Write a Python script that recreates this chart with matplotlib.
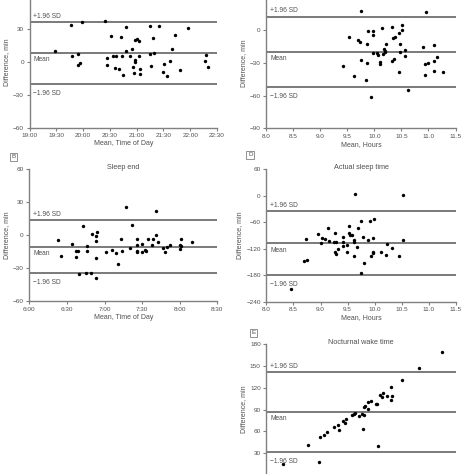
import matplotlib
matplotlib.use('Agg')
import matplotlib.pyplot as plt

plt.rcParams['font.family'] = ['Liberation Sans', 'DejaVu Sans']

# A: sleep start (mean clock time, difference in min)
a_time = ['19:29', '19:47', '19:48', '19:54', '19:54', '19:57', '19:59', '20:24', '20:27', '20:27',
          '20:31', '20:33', '20:37', '20:36', '20:40', '20:43', '20:44', '20:45', '20:48', '20:48',
          '20:53', '20:55', '20:56', '20:58', '20:58', '20:57', '20:58', '21:00', '21:03', '21:03',
          '21:04', '21:04', '21:15', '21:15', '21:16', '21:18', '21:19', '21:25', '21:29', '21:31',
          '21:34', '21:37', '21:40', '21:43', '21:49', '21:57', '22:16', '22:18', '22:20']
a_diff = [10.6, 34.2, 5.2, 7.0, -2.4, -0.6, 37.0, 37.9, 3.9, -3.0,
          23.9, 5.5, 5.8, -5.5, -6.7, 23.0, 5.5, -12.1, 32.1, 10.6,
          5.5, 12.1, -4.5, -0.3, 1.5, -9.7, 20.6, 21.5, 19.4, 5.2,
          -6.4, -10.6, 33.3, 7.6, -3.3, 21.8, 8.2, 32.7, -9.1, -1.8,
          -12.7, 0.9, 12.4, 24.5, -7.3, 31.5, 0.9, 6.4, -4.2]
a_limits = [36.8, 8.5, -19.8]

# C: time in bed (hours)
c_hours = [9.76, 10.96, 9.53, 9.69, 9.73, 9.41, 9.63, 9.75, 9.85, 9.86,
           9.89, 9.87, 9.93, 9.97, 9.98, 9.98, 10.05, 10.07, 10.10, 10.11,
           10.14, 10.15, 10.18, 10.19, 10.20, 10.22, 10.32, 10.32, 10.35, 10.37,
           10.38, 10.45, 10.48, 10.48, 10.51, 10.51, 10.45, 10.57, 10.57, 10.62,
           10.90, 10.93, 10.94, 10.99, 11.11, 11.10, 11.16, 11.11, 11.27]
c_diff = [17.8, 16.2, -6.1, -9.2, -11.3, -32.8, -42.5, -27.5, -45.3, -13.2,
          -0.9, -30.0, -61.2, -0.9, -4.6, -21.1, -21.1, -23.3, -29.1, -31.2,
          1.5, -21.7, -17.4, -19.6, -20.5, -12.5, 2.4, -27.9, -7.0, -26.9,
          -6.1, -3.1, -12.5, -20.5, 4.3, -0.3, -38.0, -18.4, -23.6, -54.8,
          -15.6, -41.0, -30.9, -30.0, -14.1, -27.9, -25.1, -37.3, -38.0]
c_limits = [12.4, -19.7, -51.8]

# B: sleep end
b_time = ['6:23', '6:25', '6:34', '6:37', '6:37', '6:39', '6:40', '6:43', '6:45', '6:46',
          '6:46', '6:49', '6:50', '6:53', '6:53', '6:53', '6:53', '6:54', '7:01', '7:06',
          '7:09', '7:11', '7:13', '7:14', '7:17', '7:20', '7:22', '7:26', '7:26', '7:26',
          '7:26', '7:30', '7:30', '7:32', '7:33', '7:35', '7:38', '7:39', '7:41', '7:41',
          '7:43', '7:47', '7:48', '7:50', '7:52', '8:00', '8:00', '8:01', '8:01', '8:10']
b_diff = [-4.8, -19.4, -8.5, -20.3, -14.8, -14.8, -35.8, 8.2, -34.5, -14.5,
          -10.0, -34.5, 0.6, -1.2, -5.5, -20.9, -38.8, 2.7, -15.5, -13.9,
          -16.4, -26.1, -3.9, -14.2, 26.1, -12.1, 9.4, -3.6, -9.4, -15.5,
          -14.2, -7.9, -15.8, -13.9, -14.5, -3.6, -9.1, -3.6, 22.4, -0.3,
          -6.4, -11.5, -15.8, -10.9, -8.8, -9.1, -12.7, -3.6, -10.0, -5.8]
b_limits = [13.6, -10.4, -34.4]

# D: actual sleep time (hours)
d_hours = [9.63, 10.53, 9.14, 9.74, 9.92, 9.98, 8.74, 8.96, 9.02, 9.08,
           9.15, 9.00, 9.27, 9.24, 9.28, 9.32, 9.27, 9.29, 9.42, 9.42,
           9.41, 9.49, 9.53, 9.53, 9.55, 9.59, 9.48, 9.62, 9.62, 9.62,
           9.67, 9.69, 9.75, 9.78, 9.80, 9.88, 9.93, 9.96, 9.97, 9.96,
           10.12, 10.20, 10.23, 10.32, 10.44, 10.52, 8.70, 8.75, 8.45]
d_diff = [3.0, 1.0, -73.8, -57.1, -57.9, -52.6, -98.7, -85.9, -94.9, -97.9,
          -102.5, -107.8, -83.6, -105.5, -105.5, -120.6, -128.2, -132.7, -104.7, -94.2,
          -114.6, -111.5, -69.2, -84.3, -88.9, -88.9, -127.4, -104.7, -100.2, -136.5,
          -116.8, -73.8, -175.8, -93.4, -151.6, -101.0, -136.5, -95.7, -130.4, -127.4,
          -128.2, -135.0, -110.0, -118.3, -136.5, -100.2, -147.0, -145.6, -212.0]
d_limits = [-35.6, -107.4, -179.2]

# E: nocturnal wake time (min)
e_mean = [18, 58, 46, 60, 64, 67, 75, 80, 81, 85,
          87, 88, 95, 97, 99, 103, 106, 108, 107, 108,
          109, 113, 113, 116, 122, 123, 124, 126, 128, 130,
          134, 138, 138, 140, 151, 170, 195]
e_diff = [14.9, 17.2, 41.0, 52.5, 54.8, 58.9, 65.3, 68.1, 61.7, 74.5,
          71.7, 77.3, 82.8, 83.7, 85.5, 81.4, 84.1, 82.8, 63.0, 92.8,
          94.7, 90.1, 99.7, 102.0, 97.0, 97.4, 39.6, 109.8, 107.5, 112.6,
          108.9, 120.4, 102.9, 108.4, 130.0, 147.4, 169.4]
e_limits = [141.6, 86.7, 31.8]

GRAY = '#808080'
TXT = '#505050'
W = 474.0


def to_minutes(labels):
    out = []
    for s in labels:
        h, m = s.split(':')
        out.append(int(h) * 60 + int(m))
    return out


def box(l, t, r, b):
    # pixel box -> figure fraction
    return [l / W, 1 - b / W, (r - l) / W, (b - t) / W]


def style(ax):
    for side in ['top', 'right']:
        ax.spines[side].set_visible(False)
    for side in ['left', 'bottom']:
        ax.spines[side].set_color(GRAY)
        ax.spines[side].set_linewidth(1.0)
    ax.tick_params(direction='out', length=2.5, width=0.8, color=GRAY,
                   labelsize=4.6, labelcolor=TXT, pad=1.5)
    ax.set_ylabel('Difference, min', fontsize=5, color=TXT, labelpad=2)


def limits(ax, lims):
    up, mean, low = lims
    for v in lims:
        ax.axhline(v, color='#707070', lw=1.3, zorder=1)
    kw = dict(xycoords=('axes fraction', 'data'), textcoords='offset points',
              fontsize=4.8, color=TXT, ha='left', va='center')
    ax.annotate('+1.96 SD', (0.02, up), xytext=(0, 4), **kw)
    ax.annotate('Mean', (0.02, mean), xytext=(0, -5), **kw)
    ax.annotate('\u22121.96 SD', (0.02, low), xytext=(0, -7), **kw)


def dots(ax, x, y):
    ax.scatter(x, y, s=6, color='black', zorder=3, linewidths=0)


def title(ax, s):
    ax.text(0.5, 1.01, s, transform=ax.transAxes, ha='center', va='center',
            fontsize=5.2, color=TXT)


def letter(fig, s, x, y):
    fig.text(x / W, 1 - y / W, s, ha='center', va='center', fontsize=4.5, color=TXT,
             bbox=dict(boxstyle='square,pad=0.25', fc='white', ec=GRAY, lw=0.6))


fig = plt.figure(figsize=(4.74, 4.74), dpi=100)

# A (top of panel lies outside the picture)
ax = fig.add_axes(box(29.5, -3.5, 217, 127.7))
style(ax)
limits(ax, a_limits)
dots(ax, to_minutes(a_time), a_diff)
ticks = list(range(19 * 60, 22 * 60 + 31, 30))
ax.set_xticks(ticks)
ax.set_xticklabels(['%d:%02d' % (t // 60, t % 60) for t in ticks])
ax.set_xlim(19 * 60, 22 * 60 + 30)
ax.set_ylim(-60, 60)
ax.set_yticks([-60, -30, 0, 30])
ax.set_xlabel('Mean, Time of Day', fontsize=5, color=TXT, labelpad=1.5)

# C
ax = fig.add_axes(box(266.3, -2.7, 455.5, 128.3))
style(ax)
limits(ax, c_limits)
dots(ax, c_hours, c_diff)
ax.set_xlim(8.0, 11.5)
ax.set_xticks([8.0, 8.5, 9.0, 9.5, 10.0, 10.5, 11.0, 11.5])
ax.set_xticklabels(['8.0', '8.5', '9.0', '9.5', '10.0', '10.5', '11.0', '11.5'])
ax.set_ylim(-90, 30)
ax.set_yticks([-90, -60, -30, 0])
ax.set_xlabel('Mean, Hours', fontsize=5, color=TXT, labelpad=1.5)

# B
ax = fig.add_axes(box(29.3, 169.3, 217.3, 301))
style(ax)
limits(ax, b_limits)
dots(ax, to_minutes(b_time), b_diff)
ticks = list(range(6 * 60, 8 * 60 + 31, 30))
ax.set_xticks(ticks)
ax.set_xticklabels(['%d:%02d' % (t // 60, t % 60) for t in ticks])
ax.set_xlim(6 * 60, 8 * 60 + 30)
ax.set_ylim(-60, 60)
ax.set_yticks([-60, -30, 0, 30, 60])
ax.set_xlabel('Mean, Time of Day', fontsize=5, color=TXT, labelpad=1.5)
title(ax, 'Sleep end')
letter(fig, 'B', 13.3, 156.7)

# D
ax = fig.add_axes(box(266.3, 169.3, 456, 301.7))
style(ax)
limits(ax, d_limits)
dots(ax, d_hours, d_diff)
ax.set_xlim(8.0, 11.5)
ax.set_xticks([8.0, 8.5, 9.0, 9.5, 10.0, 10.5, 11.0, 11.5])
ax.set_xticklabels(['8.0', '8.5', '9.0', '9.5', '10.0', '10.5', '11.0', '11.5'])
ax.set_ylim(-240, 60)
ax.set_yticks([-240, -180, -120, -60, 0, 60])
ax.set_xlabel('Mean, Hours', fontsize=5, color=TXT, labelpad=1.5)
title(ax, 'Actual sleep time')
letter(fig, 'D', 250.3, 155)

# E (x axis lies below the picture)
ax = fig.add_axes(box(266.3, 344, 455.5, 475))
style(ax)
limits(ax, e_limits)
dots(ax, e_mean, e_diff)
ax.set_xlim(0, 210)
ax.set_ylim(0, 180)
ax.set_yticks([30, 60, 90, 120, 150, 180])
ax.set_xticks([])
title(ax, 'Nocturnal wake time')
letter(fig, 'E', 253.7, 332.7)

fig.savefig('out.png', dpi=100)
